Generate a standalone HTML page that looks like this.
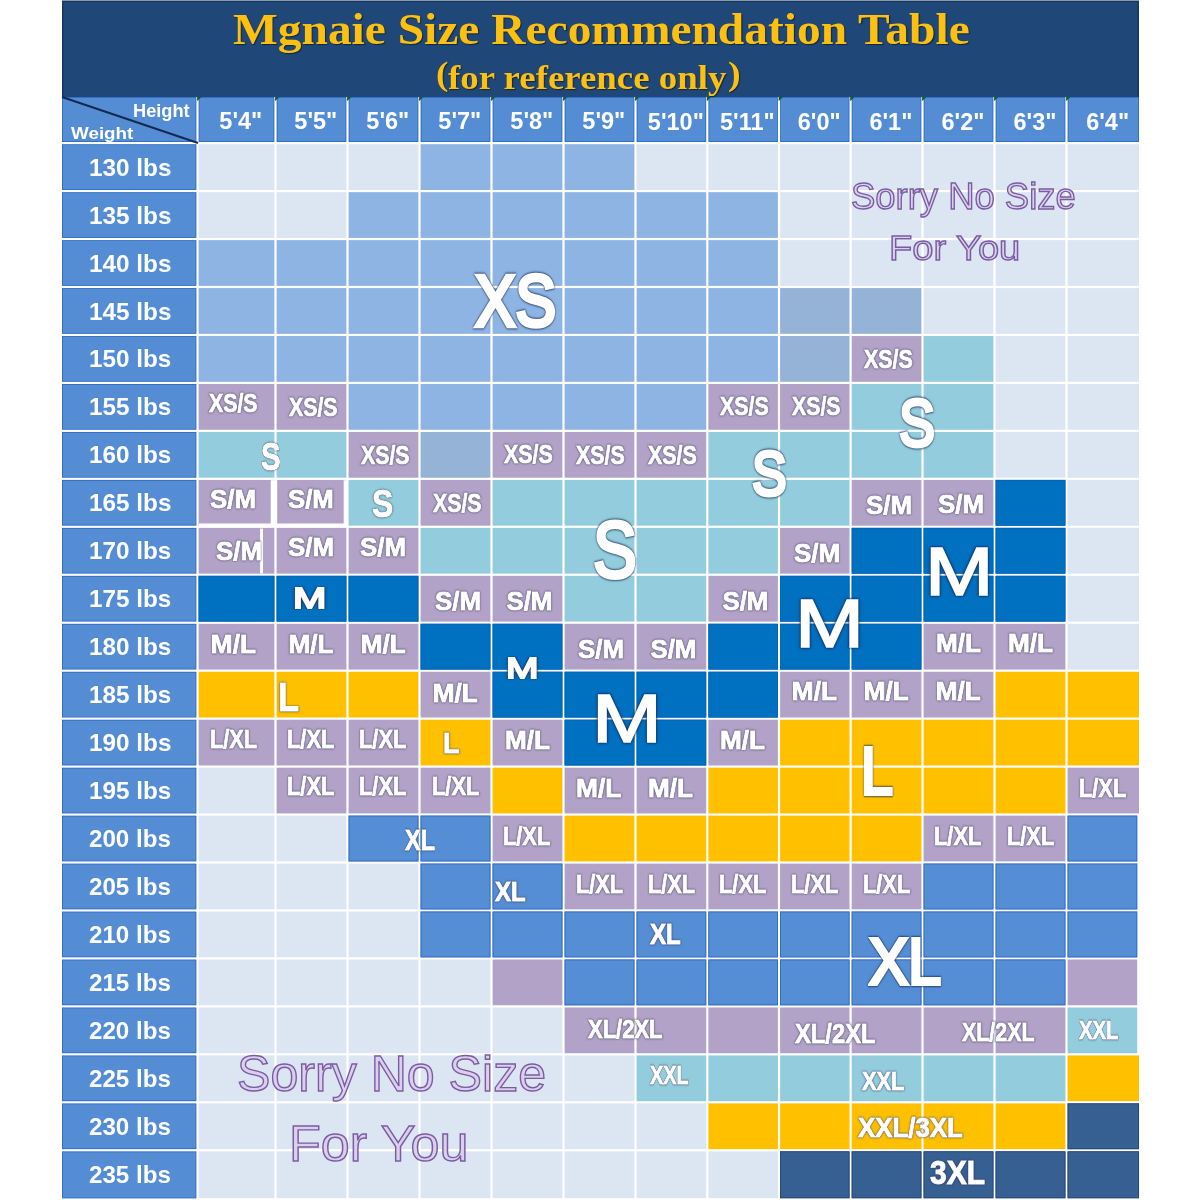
<!DOCTYPE html>
<html lang="en"><head><meta charset="utf-8"><title>Mgnaie Size Recommendation Table</title>
<style>
html,body{margin:0;padding:0;background:#fff}
#chart{position:relative;width:1200px;height:1200px;overflow:hidden;background:#fff;font-family:"Liberation Sans",sans-serif}
#grid{position:absolute;left:0;top:0}
.t{position:absolute;white-space:nowrap;line-height:1;transform-origin:0 0;color:#fff;margin:0;font-family:"Liberation Sans",sans-serif}
.b{font-weight:bold}
.ti{font-family:"Liberation Serif",serif;font-weight:bold;color:#fdc010;text-shadow:1px 1px 1px rgba(0,0,0,.45)}
.sm{font-weight:bold;-webkit-text-stroke:1px #fff;filter:drop-shadow(0 0 .7px rgba(30,35,70,.95)) drop-shadow(.6px .8px 1px rgba(30,35,70,.6))}
.md{font-weight:normal;-webkit-text-stroke:2px #fff}
.bg{-webkit-text-stroke:4px #fff;filter:drop-shadow(0 0 .8px rgba(15,35,80,.95)) drop-shadow(.7px .9px 1.2px rgba(15,35,80,.6))}
.so{color:#dccfee;-webkit-text-stroke:1.4px #7a5da1}
</style></head><body>
<div id="chart">
<svg id="grid" width="1200" height="1200" viewBox="0 0 1200 1200">
<rect x="62" y="0.5" width="1077" height="96.5" fill="#17375e"/>
<rect x="63.5" y="2" width="1074" height="95" fill="#1f4777"/>
<rect x="62" y="97" width="134.4" height="45" fill="#2f6dc3"/>
<rect x="62.9" y="97.9" width="132.6" height="43.2" fill="#548dd4"/>
<line x1="62" y1="97" x2="198" y2="143" stroke="#14294f" stroke-width="2"/>
<rect x="198.6" y="97" width="75.8" height="45" fill="#2f6dc3"/>
<rect x="199.5" y="97.9" width="74" height="43.2" fill="#548dd4"/>
<path d="M197.1 97h4.2l-4.2 4.2z" fill="#0d5c24"/>
<rect x="276.6" y="97" width="69.8" height="45" fill="#2f6dc3"/>
<rect x="277.5" y="97.9" width="68" height="43.2" fill="#548dd4"/>
<path d="M275.1 97h4.2l-4.2 4.2z" fill="#0d5c24"/>
<rect x="348.6" y="97" width="69.8" height="45" fill="#2f6dc3"/>
<rect x="349.5" y="97.9" width="68" height="43.2" fill="#548dd4"/>
<path d="M347.1 97h4.2l-4.2 4.2z" fill="#0d5c24"/>
<rect x="420.6" y="97" width="69.8" height="45" fill="#2f6dc3"/>
<rect x="421.5" y="97.9" width="68" height="43.2" fill="#548dd4"/>
<path d="M419.1 97h4.2l-4.2 4.2z" fill="#0d5c24"/>
<rect x="492.6" y="97" width="69.8" height="45" fill="#2f6dc3"/>
<rect x="493.5" y="97.9" width="68" height="43.2" fill="#548dd4"/>
<path d="M491.1 97h4.2l-4.2 4.2z" fill="#0d5c24"/>
<rect x="564.6" y="97" width="69.8" height="45" fill="#2f6dc3"/>
<rect x="565.5" y="97.9" width="68" height="43.2" fill="#548dd4"/>
<path d="M563.1 97h4.2l-4.2 4.2z" fill="#0d5c24"/>
<rect x="636.6" y="97" width="69.6" height="45" fill="#2f6dc3"/>
<rect x="637.5" y="97.9" width="67.8" height="43.2" fill="#548dd4"/>
<path d="M635.1 97h4.2l-4.2 4.2z" fill="#0d5c24"/>
<rect x="708.4" y="97" width="69.5" height="45" fill="#2f6dc3"/>
<rect x="709.3" y="97.9" width="67.7" height="43.2" fill="#548dd4"/>
<path d="M706.9 97h4.2l-4.2 4.2z" fill="#0d5c24"/>
<rect x="780.1" y="97" width="69.4" height="45" fill="#2f6dc3"/>
<rect x="781" y="97.9" width="67.6" height="43.2" fill="#548dd4"/>
<path d="M778.6 97h4.2l-4.2 4.2z" fill="#0d5c24"/>
<rect x="851.7" y="97" width="69.7" height="45" fill="#2f6dc3"/>
<rect x="852.6" y="97.9" width="67.9" height="43.2" fill="#548dd4"/>
<path d="M850.2 97h4.2l-4.2 4.2z" fill="#0d5c24"/>
<rect x="923.6" y="97" width="69.8" height="45" fill="#2f6dc3"/>
<rect x="924.5" y="97.9" width="68" height="43.2" fill="#548dd4"/>
<path d="M922.1 97h4.2l-4.2 4.2z" fill="#0d5c24"/>
<rect x="995.6" y="97" width="69.8" height="45" fill="#2f6dc3"/>
<rect x="996.5" y="97.9" width="68" height="43.2" fill="#548dd4"/>
<path d="M994.1 97h4.2l-4.2 4.2z" fill="#0d5c24"/>
<rect x="1067.6" y="97" width="71.4" height="45" fill="#2f6dc3"/>
<rect x="1068.5" y="97.9" width="69.6" height="43.2" fill="#548dd4"/>
<path d="M1066.1 97h4.2l-4.2 4.2z" fill="#0d5c24"/>
<rect x="62" y="144.2" width="134.4" height="45.76" fill="#2f6dc3"/>
<rect x="62.9" y="145.1" width="132.6" height="43.96" fill="#548dd4"/>
<rect x="198.6" y="144.2" width="75.8" height="45.76" fill="#dce6f2"/>
<rect x="276.6" y="144.2" width="69.8" height="45.76" fill="#dce6f2"/>
<rect x="348.6" y="144.2" width="69.8" height="45.76" fill="#dce6f2"/>
<rect x="420.6" y="144.2" width="69.8" height="45.76" fill="#8eb4e3"/>
<rect x="492.6" y="144.2" width="69.8" height="45.76" fill="#8eb4e3"/>
<rect x="564.6" y="144.2" width="69.8" height="45.76" fill="#8eb4e3"/>
<rect x="636.6" y="144.2" width="69.6" height="45.76" fill="#dce6f2"/>
<rect x="708.4" y="144.2" width="69.5" height="45.76" fill="#dce6f2"/>
<rect x="780.1" y="144.2" width="69.4" height="45.76" fill="#dce6f2"/>
<rect x="851.7" y="144.2" width="69.7" height="45.76" fill="#dce6f2"/>
<rect x="923.6" y="144.2" width="69.8" height="45.76" fill="#dce6f2"/>
<rect x="995.6" y="144.2" width="69.8" height="45.76" fill="#dce6f2"/>
<rect x="1067.6" y="144.2" width="71.4" height="45.76" fill="#dce6f2"/>
<rect x="62" y="192.16" width="134.4" height="45.76" fill="#2f6dc3"/>
<rect x="62.9" y="193.06" width="132.6" height="43.96" fill="#548dd4"/>
<rect x="198.6" y="192.16" width="75.8" height="45.76" fill="#dce6f2"/>
<rect x="276.6" y="192.16" width="69.8" height="45.76" fill="#dce6f2"/>
<rect x="348.6" y="192.16" width="69.8" height="45.76" fill="#8eb4e3"/>
<rect x="420.6" y="192.16" width="69.8" height="45.76" fill="#8eb4e3"/>
<rect x="492.6" y="192.16" width="69.8" height="45.76" fill="#8eb4e3"/>
<rect x="564.6" y="192.16" width="69.8" height="45.76" fill="#8eb4e3"/>
<rect x="636.6" y="192.16" width="69.6" height="45.76" fill="#8eb4e3"/>
<rect x="708.4" y="192.16" width="69.5" height="45.76" fill="#8eb4e3"/>
<rect x="780.1" y="192.16" width="69.4" height="45.76" fill="#dce6f2"/>
<rect x="851.7" y="192.16" width="69.7" height="45.76" fill="#dce6f2"/>
<rect x="923.6" y="192.16" width="69.8" height="45.76" fill="#dce6f2"/>
<rect x="995.6" y="192.16" width="69.8" height="45.76" fill="#dce6f2"/>
<rect x="1067.6" y="192.16" width="71.4" height="45.76" fill="#dce6f2"/>
<rect x="62" y="240.12" width="134.4" height="45.76" fill="#2f6dc3"/>
<rect x="62.9" y="241.02" width="132.6" height="43.96" fill="#548dd4"/>
<rect x="198.6" y="240.12" width="75.8" height="45.76" fill="#8eb4e3"/>
<rect x="276.6" y="240.12" width="69.8" height="45.76" fill="#8eb4e3"/>
<rect x="348.6" y="240.12" width="69.8" height="45.76" fill="#8eb4e3"/>
<rect x="420.6" y="240.12" width="69.8" height="45.76" fill="#8eb4e3"/>
<rect x="492.6" y="240.12" width="69.8" height="45.76" fill="#8eb4e3"/>
<rect x="564.6" y="240.12" width="69.8" height="45.76" fill="#8eb4e3"/>
<rect x="636.6" y="240.12" width="69.6" height="45.76" fill="#8eb4e3"/>
<rect x="708.4" y="240.12" width="69.5" height="45.76" fill="#8eb4e3"/>
<rect x="780.1" y="240.12" width="69.4" height="45.76" fill="#dce6f2"/>
<rect x="851.7" y="240.12" width="69.7" height="45.76" fill="#dce6f2"/>
<rect x="923.6" y="240.12" width="69.8" height="45.76" fill="#dce6f2"/>
<rect x="995.6" y="240.12" width="69.8" height="45.76" fill="#dce6f2"/>
<rect x="1067.6" y="240.12" width="71.4" height="45.76" fill="#dce6f2"/>
<rect x="62" y="288.08" width="134.4" height="45.76" fill="#2f6dc3"/>
<rect x="62.9" y="288.98" width="132.6" height="43.96" fill="#548dd4"/>
<rect x="198.6" y="288.08" width="75.8" height="45.76" fill="#8eb4e3"/>
<rect x="276.6" y="288.08" width="69.8" height="45.76" fill="#8eb4e3"/>
<rect x="348.6" y="288.08" width="69.8" height="45.76" fill="#8eb4e3"/>
<rect x="420.6" y="288.08" width="69.8" height="45.76" fill="#8eb4e3"/>
<rect x="492.6" y="288.08" width="69.8" height="45.76" fill="#8eb4e3"/>
<rect x="564.6" y="288.08" width="69.8" height="45.76" fill="#8eb4e3"/>
<rect x="636.6" y="288.08" width="69.6" height="45.76" fill="#8eb4e3"/>
<rect x="708.4" y="288.08" width="69.5" height="45.76" fill="#8eb4e3"/>
<rect x="780.1" y="288.08" width="69.4" height="45.76" fill="#95b3d7"/>
<rect x="851.7" y="288.08" width="69.7" height="45.76" fill="#95b3d7"/>
<rect x="923.6" y="288.08" width="69.8" height="45.76" fill="#dce6f2"/>
<rect x="995.6" y="288.08" width="69.8" height="45.76" fill="#dce6f2"/>
<rect x="1067.6" y="288.08" width="71.4" height="45.76" fill="#dce6f2"/>
<rect x="62" y="336.04" width="134.4" height="45.76" fill="#2f6dc3"/>
<rect x="62.9" y="336.94" width="132.6" height="43.96" fill="#548dd4"/>
<rect x="198.6" y="336.04" width="75.8" height="45.76" fill="#8eb4e3"/>
<rect x="276.6" y="336.04" width="69.8" height="45.76" fill="#8eb4e3"/>
<rect x="348.6" y="336.04" width="69.8" height="45.76" fill="#8eb4e3"/>
<rect x="420.6" y="336.04" width="69.8" height="45.76" fill="#8eb4e3"/>
<rect x="492.6" y="336.04" width="69.8" height="45.76" fill="#8eb4e3"/>
<rect x="564.6" y="336.04" width="69.8" height="45.76" fill="#8eb4e3"/>
<rect x="636.6" y="336.04" width="69.6" height="45.76" fill="#8eb4e3"/>
<rect x="708.4" y="336.04" width="69.5" height="45.76" fill="#8eb4e3"/>
<rect x="780.1" y="336.04" width="69.4" height="45.76" fill="#95b3d7"/>
<rect x="851.7" y="336.04" width="69.7" height="45.76" fill="#b3a2c7"/>
<rect x="923.6" y="336.04" width="69.8" height="45.76" fill="#93cddd"/>
<rect x="995.6" y="336.04" width="69.8" height="45.76" fill="#dce6f2"/>
<rect x="1067.6" y="336.04" width="71.4" height="45.76" fill="#dce6f2"/>
<rect x="62" y="384" width="134.4" height="45.76" fill="#2f6dc3"/>
<rect x="62.9" y="384.9" width="132.6" height="43.96" fill="#548dd4"/>
<rect x="198.6" y="384" width="75.8" height="45.76" fill="#b3a2c7"/>
<rect x="276.6" y="384" width="69.8" height="45.76" fill="#b3a2c7"/>
<rect x="348.6" y="384" width="69.8" height="45.76" fill="#8eb4e3"/>
<rect x="420.6" y="384" width="69.8" height="45.76" fill="#8eb4e3"/>
<rect x="492.6" y="384" width="69.8" height="45.76" fill="#8eb4e3"/>
<rect x="564.6" y="384" width="69.8" height="45.76" fill="#8eb4e3"/>
<rect x="636.6" y="384" width="69.6" height="45.76" fill="#8eb4e3"/>
<rect x="708.4" y="384" width="69.5" height="45.76" fill="#b3a2c7"/>
<rect x="780.1" y="384" width="69.4" height="45.76" fill="#b3a2c7"/>
<rect x="851.7" y="384" width="69.7" height="45.76" fill="#93cddd"/>
<rect x="923.6" y="384" width="69.8" height="45.76" fill="#93cddd"/>
<rect x="995.6" y="384" width="69.8" height="45.76" fill="#dce6f2"/>
<rect x="1067.6" y="384" width="71.4" height="45.76" fill="#dce6f2"/>
<rect x="62" y="431.96" width="134.4" height="45.76" fill="#2f6dc3"/>
<rect x="62.9" y="432.86" width="132.6" height="43.96" fill="#548dd4"/>
<rect x="198.6" y="431.96" width="75.8" height="45.76" fill="#93cddd"/>
<rect x="276.6" y="431.96" width="69.8" height="45.76" fill="#93cddd"/>
<rect x="348.6" y="431.96" width="69.8" height="45.76" fill="#b3a2c7"/>
<rect x="420.6" y="431.96" width="69.8" height="45.76" fill="#95b3d7"/>
<rect x="492.6" y="431.96" width="69.8" height="45.76" fill="#b3a2c7"/>
<rect x="564.6" y="431.96" width="69.8" height="45.76" fill="#b3a2c7"/>
<rect x="636.6" y="431.96" width="69.6" height="45.76" fill="#b3a2c7"/>
<rect x="708.4" y="431.96" width="69.5" height="45.76" fill="#93cddd"/>
<rect x="780.1" y="431.96" width="69.4" height="45.76" fill="#93cddd"/>
<rect x="851.7" y="431.96" width="69.7" height="45.76" fill="#93cddd"/>
<rect x="923.6" y="431.96" width="69.8" height="45.76" fill="#93cddd"/>
<rect x="995.6" y="431.96" width="69.8" height="45.76" fill="#dce6f2"/>
<rect x="1067.6" y="431.96" width="71.4" height="45.76" fill="#dce6f2"/>
<rect x="62" y="479.92" width="134.4" height="45.76" fill="#2f6dc3"/>
<rect x="62.9" y="480.82" width="132.6" height="43.96" fill="#548dd4"/>
<rect x="198.6" y="479.92" width="75.8" height="45.76" fill="#b3a2c7"/>
<rect x="276.6" y="479.92" width="69.8" height="45.76" fill="#b3a2c7"/>
<rect x="348.6" y="479.92" width="69.8" height="45.76" fill="#93cddd"/>
<rect x="420.6" y="479.92" width="69.8" height="45.76" fill="#b3a2c7"/>
<rect x="492.6" y="479.92" width="69.8" height="45.76" fill="#93cddd"/>
<rect x="564.6" y="479.92" width="69.8" height="45.76" fill="#93cddd"/>
<rect x="636.6" y="479.92" width="69.6" height="45.76" fill="#93cddd"/>
<rect x="708.4" y="479.92" width="69.5" height="45.76" fill="#93cddd"/>
<rect x="780.1" y="479.92" width="69.4" height="45.76" fill="#93cddd"/>
<rect x="851.7" y="479.92" width="69.7" height="45.76" fill="#b3a2c7"/>
<rect x="923.6" y="479.92" width="69.8" height="45.76" fill="#b3a2c7"/>
<rect x="995.6" y="479.92" width="69.8" height="45.76" fill="#0070c0"/>
<rect x="996" y="480.32" width="69" height="44.96" fill="none" stroke="#0565b4" stroke-width="0.9"/>
<rect x="1067.6" y="479.92" width="71.4" height="45.76" fill="#dce6f2"/>
<rect x="62" y="527.88" width="134.4" height="45.76" fill="#2f6dc3"/>
<rect x="62.9" y="528.78" width="132.6" height="43.96" fill="#548dd4"/>
<rect x="198.6" y="527.88" width="75.8" height="45.76" fill="#b3a2c7"/>
<rect x="276.6" y="527.88" width="69.8" height="45.76" fill="#b3a2c7"/>
<rect x="348.6" y="527.88" width="69.8" height="45.76" fill="#b3a2c7"/>
<rect x="420.6" y="527.88" width="69.8" height="45.76" fill="#93cddd"/>
<rect x="492.6" y="527.88" width="69.8" height="45.76" fill="#93cddd"/>
<rect x="564.6" y="527.88" width="69.8" height="45.76" fill="#93cddd"/>
<rect x="636.6" y="527.88" width="69.6" height="45.76" fill="#93cddd"/>
<rect x="708.4" y="527.88" width="69.5" height="45.76" fill="#93cddd"/>
<rect x="780.1" y="527.88" width="69.4" height="45.76" fill="#b3a2c7"/>
<rect x="851.7" y="527.88" width="69.7" height="45.76" fill="#0070c0"/>
<rect x="852.1" y="528.28" width="68.9" height="44.96" fill="none" stroke="#0565b4" stroke-width="0.9"/>
<rect x="923.6" y="527.88" width="69.8" height="45.76" fill="#0070c0"/>
<rect x="924" y="528.28" width="69" height="44.96" fill="none" stroke="#0565b4" stroke-width="0.9"/>
<rect x="995.6" y="527.88" width="69.8" height="45.76" fill="#0070c0"/>
<rect x="996" y="528.28" width="69" height="44.96" fill="none" stroke="#0565b4" stroke-width="0.9"/>
<rect x="1067.6" y="527.88" width="71.4" height="45.76" fill="#dce6f2"/>
<rect x="62" y="575.84" width="134.4" height="45.76" fill="#2f6dc3"/>
<rect x="62.9" y="576.74" width="132.6" height="43.96" fill="#548dd4"/>
<rect x="198.6" y="575.84" width="75.8" height="45.76" fill="#0070c0"/>
<rect x="199" y="576.24" width="75" height="44.96" fill="none" stroke="#0565b4" stroke-width="0.9"/>
<rect x="276.6" y="575.84" width="69.8" height="45.76" fill="#0070c0"/>
<rect x="277" y="576.24" width="69" height="44.96" fill="none" stroke="#0565b4" stroke-width="0.9"/>
<rect x="348.6" y="575.84" width="69.8" height="45.76" fill="#0070c0"/>
<rect x="349" y="576.24" width="69" height="44.96" fill="none" stroke="#0565b4" stroke-width="0.9"/>
<rect x="420.6" y="575.84" width="69.8" height="45.76" fill="#b3a2c7"/>
<rect x="492.6" y="575.84" width="69.8" height="45.76" fill="#b3a2c7"/>
<rect x="564.6" y="575.84" width="69.8" height="45.76" fill="#93cddd"/>
<rect x="636.6" y="575.84" width="69.6" height="45.76" fill="#93cddd"/>
<rect x="708.4" y="575.84" width="69.5" height="45.76" fill="#b3a2c7"/>
<rect x="780.1" y="575.84" width="69.4" height="45.76" fill="#0070c0"/>
<rect x="780.5" y="576.24" width="68.6" height="44.96" fill="none" stroke="#0565b4" stroke-width="0.9"/>
<rect x="851.7" y="575.84" width="69.7" height="45.76" fill="#0070c0"/>
<rect x="852.1" y="576.24" width="68.9" height="44.96" fill="none" stroke="#0565b4" stroke-width="0.9"/>
<rect x="923.6" y="575.84" width="69.8" height="45.76" fill="#0070c0"/>
<rect x="924" y="576.24" width="69" height="44.96" fill="none" stroke="#0565b4" stroke-width="0.9"/>
<rect x="995.6" y="575.84" width="69.8" height="45.76" fill="#0070c0"/>
<rect x="996" y="576.24" width="69" height="44.96" fill="none" stroke="#0565b4" stroke-width="0.9"/>
<rect x="1067.6" y="575.84" width="71.4" height="45.76" fill="#dce6f2"/>
<rect x="62" y="623.8" width="134.4" height="45.76" fill="#2f6dc3"/>
<rect x="62.9" y="624.7" width="132.6" height="43.96" fill="#548dd4"/>
<rect x="198.6" y="623.8" width="75.8" height="45.76" fill="#b3a2c7"/>
<rect x="276.6" y="623.8" width="69.8" height="45.76" fill="#b3a2c7"/>
<rect x="348.6" y="623.8" width="69.8" height="45.76" fill="#b3a2c7"/>
<rect x="420.6" y="623.8" width="69.8" height="45.76" fill="#0070c0"/>
<rect x="421" y="624.2" width="69" height="44.96" fill="none" stroke="#0565b4" stroke-width="0.9"/>
<rect x="492.6" y="623.8" width="69.8" height="45.76" fill="#0070c0"/>
<rect x="493" y="624.2" width="69" height="44.96" fill="none" stroke="#0565b4" stroke-width="0.9"/>
<rect x="564.6" y="623.8" width="69.8" height="45.76" fill="#b3a2c7"/>
<rect x="636.6" y="623.8" width="69.6" height="45.76" fill="#b3a2c7"/>
<rect x="708.4" y="623.8" width="69.5" height="45.76" fill="#0070c0"/>
<rect x="708.8" y="624.2" width="68.7" height="44.96" fill="none" stroke="#0565b4" stroke-width="0.9"/>
<rect x="780.1" y="623.8" width="69.4" height="45.76" fill="#0070c0"/>
<rect x="780.5" y="624.2" width="68.6" height="44.96" fill="none" stroke="#0565b4" stroke-width="0.9"/>
<rect x="851.7" y="623.8" width="69.7" height="45.76" fill="#0070c0"/>
<rect x="852.1" y="624.2" width="68.9" height="44.96" fill="none" stroke="#0565b4" stroke-width="0.9"/>
<rect x="923.6" y="623.8" width="69.8" height="45.76" fill="#b3a2c7"/>
<rect x="995.6" y="623.8" width="69.8" height="45.76" fill="#b3a2c7"/>
<rect x="1067.6" y="623.8" width="71.4" height="45.76" fill="#dce6f2"/>
<rect x="62" y="671.76" width="134.4" height="45.76" fill="#2f6dc3"/>
<rect x="62.9" y="672.66" width="132.6" height="43.96" fill="#548dd4"/>
<rect x="198.6" y="671.76" width="75.8" height="45.76" fill="#ffc000"/>
<rect x="276.6" y="671.76" width="69.8" height="45.76" fill="#ffc000"/>
<rect x="348.6" y="671.76" width="69.8" height="45.76" fill="#ffc000"/>
<rect x="420.6" y="671.76" width="69.8" height="45.76" fill="#b3a2c7"/>
<rect x="492.6" y="671.76" width="69.8" height="45.76" fill="#0070c0"/>
<rect x="493" y="672.16" width="69" height="44.96" fill="none" stroke="#0565b4" stroke-width="0.9"/>
<rect x="564.6" y="671.76" width="69.8" height="45.76" fill="#0070c0"/>
<rect x="565" y="672.16" width="69" height="44.96" fill="none" stroke="#0565b4" stroke-width="0.9"/>
<rect x="636.6" y="671.76" width="69.6" height="45.76" fill="#0070c0"/>
<rect x="637" y="672.16" width="68.8" height="44.96" fill="none" stroke="#0565b4" stroke-width="0.9"/>
<rect x="708.4" y="671.76" width="69.5" height="45.76" fill="#0070c0"/>
<rect x="708.8" y="672.16" width="68.7" height="44.96" fill="none" stroke="#0565b4" stroke-width="0.9"/>
<rect x="780.1" y="671.76" width="69.4" height="45.76" fill="#b3a2c7"/>
<rect x="851.7" y="671.76" width="69.7" height="45.76" fill="#b3a2c7"/>
<rect x="923.6" y="671.76" width="69.8" height="45.76" fill="#b3a2c7"/>
<rect x="995.6" y="671.76" width="69.8" height="45.76" fill="#ffc000"/>
<rect x="1067.6" y="671.76" width="71.4" height="45.76" fill="#ffc000"/>
<rect x="62" y="719.72" width="134.4" height="45.76" fill="#2f6dc3"/>
<rect x="62.9" y="720.62" width="132.6" height="43.96" fill="#548dd4"/>
<rect x="198.6" y="719.72" width="75.8" height="45.76" fill="#b3a2c7"/>
<rect x="276.6" y="719.72" width="69.8" height="45.76" fill="#b3a2c7"/>
<rect x="348.6" y="719.72" width="69.8" height="45.76" fill="#b3a2c7"/>
<rect x="420.6" y="719.72" width="69.8" height="45.76" fill="#ffc000"/>
<rect x="492.6" y="719.72" width="69.8" height="45.76" fill="#b3a2c7"/>
<rect x="564.6" y="719.72" width="69.8" height="45.76" fill="#0070c0"/>
<rect x="565" y="720.12" width="69" height="44.96" fill="none" stroke="#0565b4" stroke-width="0.9"/>
<rect x="636.6" y="719.72" width="69.6" height="45.76" fill="#0070c0"/>
<rect x="637" y="720.12" width="68.8" height="44.96" fill="none" stroke="#0565b4" stroke-width="0.9"/>
<rect x="708.4" y="719.72" width="69.5" height="45.76" fill="#b3a2c7"/>
<rect x="780.1" y="719.72" width="69.4" height="45.76" fill="#ffc000"/>
<rect x="851.7" y="719.72" width="69.7" height="45.76" fill="#ffc000"/>
<rect x="923.6" y="719.72" width="69.8" height="45.76" fill="#ffc000"/>
<rect x="995.6" y="719.72" width="69.8" height="45.76" fill="#ffc000"/>
<rect x="1067.6" y="719.72" width="71.4" height="45.76" fill="#ffc000"/>
<rect x="62" y="767.68" width="134.4" height="45.76" fill="#2f6dc3"/>
<rect x="62.9" y="768.58" width="132.6" height="43.96" fill="#548dd4"/>
<rect x="198.6" y="767.68" width="75.8" height="45.76" fill="#dce6f2"/>
<rect x="276.6" y="767.68" width="69.8" height="45.76" fill="#b3a2c7"/>
<rect x="348.6" y="767.68" width="69.8" height="45.76" fill="#b3a2c7"/>
<rect x="420.6" y="767.68" width="69.8" height="45.76" fill="#b3a2c7"/>
<rect x="492.6" y="767.68" width="69.8" height="45.76" fill="#ffc000"/>
<rect x="564.6" y="767.68" width="69.8" height="45.76" fill="#b3a2c7"/>
<rect x="636.6" y="767.68" width="69.6" height="45.76" fill="#b3a2c7"/>
<rect x="708.4" y="767.68" width="69.5" height="45.76" fill="#ffc000"/>
<rect x="780.1" y="767.68" width="69.4" height="45.76" fill="#ffc000"/>
<rect x="851.7" y="767.68" width="69.7" height="45.76" fill="#ffc000"/>
<rect x="923.6" y="767.68" width="69.8" height="45.76" fill="#ffc000"/>
<rect x="995.6" y="767.68" width="69.8" height="45.76" fill="#ffc000"/>
<rect x="1067.6" y="767.68" width="71.4" height="45.76" fill="#b3a2c7"/>
<rect x="62" y="815.64" width="134.4" height="45.76" fill="#2f6dc3"/>
<rect x="62.9" y="816.54" width="132.6" height="43.96" fill="#548dd4"/>
<rect x="198.6" y="815.64" width="75.8" height="45.76" fill="#dce6f2"/>
<rect x="276.6" y="815.64" width="69.8" height="45.76" fill="#dce6f2"/>
<rect x="348.6" y="815.64" width="69.8" height="45.76" fill="#558ed5"/>
<rect x="349" y="816.04" width="69" height="44.96" fill="none" stroke="#316bbf" stroke-width="0.9"/>
<rect x="420.6" y="815.64" width="69.8" height="45.76" fill="#558ed5"/>
<rect x="421" y="816.04" width="69" height="44.96" fill="none" stroke="#316bbf" stroke-width="0.9"/>
<rect x="492.6" y="815.64" width="69.8" height="45.76" fill="#b3a2c7"/>
<rect x="564.6" y="815.64" width="69.8" height="45.76" fill="#ffc000"/>
<rect x="636.6" y="815.64" width="69.6" height="45.76" fill="#ffc000"/>
<rect x="708.4" y="815.64" width="69.5" height="45.76" fill="#ffc000"/>
<rect x="780.1" y="815.64" width="69.4" height="45.76" fill="#ffc000"/>
<rect x="851.7" y="815.64" width="69.7" height="45.76" fill="#ffc000"/>
<rect x="923.6" y="815.64" width="69.8" height="45.76" fill="#b3a2c7"/>
<rect x="995.6" y="815.64" width="69.8" height="45.76" fill="#b3a2c7"/>
<rect x="1067.6" y="815.64" width="69.6" height="45.76" fill="#558ed5"/>
<rect x="1068" y="816.04" width="68.8" height="44.96" fill="none" stroke="#316bbf" stroke-width="0.9"/>
<rect x="62" y="863.6" width="134.4" height="45.76" fill="#2f6dc3"/>
<rect x="62.9" y="864.5" width="132.6" height="43.96" fill="#548dd4"/>
<rect x="198.6" y="863.6" width="75.8" height="45.76" fill="#dce6f2"/>
<rect x="276.6" y="863.6" width="69.8" height="45.76" fill="#dce6f2"/>
<rect x="348.6" y="863.6" width="69.8" height="45.76" fill="#dce6f2"/>
<rect x="420.6" y="863.6" width="69.8" height="45.76" fill="#558ed5"/>
<rect x="421" y="864" width="69" height="44.96" fill="none" stroke="#316bbf" stroke-width="0.9"/>
<rect x="492.6" y="863.6" width="69.8" height="45.76" fill="#558ed5"/>
<rect x="493" y="864" width="69" height="44.96" fill="none" stroke="#316bbf" stroke-width="0.9"/>
<rect x="564.6" y="863.6" width="69.8" height="45.76" fill="#b3a2c7"/>
<rect x="636.6" y="863.6" width="69.6" height="45.76" fill="#b3a2c7"/>
<rect x="708.4" y="863.6" width="69.5" height="45.76" fill="#b3a2c7"/>
<rect x="780.1" y="863.6" width="69.4" height="45.76" fill="#b3a2c7"/>
<rect x="851.7" y="863.6" width="69.7" height="45.76" fill="#b3a2c7"/>
<rect x="923.6" y="863.6" width="69.8" height="45.76" fill="#558ed5"/>
<rect x="924" y="864" width="69" height="44.96" fill="none" stroke="#316bbf" stroke-width="0.9"/>
<rect x="995.6" y="863.6" width="69.8" height="45.76" fill="#558ed5"/>
<rect x="996" y="864" width="69" height="44.96" fill="none" stroke="#316bbf" stroke-width="0.9"/>
<rect x="1067.6" y="863.6" width="69.6" height="45.76" fill="#558ed5"/>
<rect x="1068" y="864" width="68.8" height="44.96" fill="none" stroke="#316bbf" stroke-width="0.9"/>
<rect x="62" y="911.56" width="134.4" height="45.76" fill="#2f6dc3"/>
<rect x="62.9" y="912.46" width="132.6" height="43.96" fill="#548dd4"/>
<rect x="198.6" y="911.56" width="75.8" height="45.76" fill="#dce6f2"/>
<rect x="276.6" y="911.56" width="69.8" height="45.76" fill="#dce6f2"/>
<rect x="348.6" y="911.56" width="69.8" height="45.76" fill="#dce6f2"/>
<rect x="420.6" y="911.56" width="69.8" height="45.76" fill="#558ed5"/>
<rect x="421" y="911.96" width="69" height="44.96" fill="none" stroke="#316bbf" stroke-width="0.9"/>
<rect x="492.6" y="911.56" width="69.8" height="45.76" fill="#558ed5"/>
<rect x="493" y="911.96" width="69" height="44.96" fill="none" stroke="#316bbf" stroke-width="0.9"/>
<rect x="564.6" y="911.56" width="69.8" height="45.76" fill="#558ed5"/>
<rect x="565" y="911.96" width="69" height="44.96" fill="none" stroke="#316bbf" stroke-width="0.9"/>
<rect x="636.6" y="911.56" width="69.6" height="45.76" fill="#558ed5"/>
<rect x="637" y="911.96" width="68.8" height="44.96" fill="none" stroke="#316bbf" stroke-width="0.9"/>
<rect x="708.4" y="911.56" width="69.5" height="45.76" fill="#558ed5"/>
<rect x="708.8" y="911.96" width="68.7" height="44.96" fill="none" stroke="#316bbf" stroke-width="0.9"/>
<rect x="780.1" y="911.56" width="69.4" height="45.76" fill="#558ed5"/>
<rect x="780.5" y="911.96" width="68.6" height="44.96" fill="none" stroke="#316bbf" stroke-width="0.9"/>
<rect x="851.7" y="911.56" width="69.7" height="45.76" fill="#558ed5"/>
<rect x="852.1" y="911.96" width="68.9" height="44.96" fill="none" stroke="#316bbf" stroke-width="0.9"/>
<rect x="923.6" y="911.56" width="69.8" height="45.76" fill="#558ed5"/>
<rect x="924" y="911.96" width="69" height="44.96" fill="none" stroke="#316bbf" stroke-width="0.9"/>
<rect x="995.6" y="911.56" width="69.8" height="45.76" fill="#558ed5"/>
<rect x="996" y="911.96" width="69" height="44.96" fill="none" stroke="#316bbf" stroke-width="0.9"/>
<rect x="1067.6" y="911.56" width="69.6" height="45.76" fill="#558ed5"/>
<rect x="1068" y="911.96" width="68.8" height="44.96" fill="none" stroke="#316bbf" stroke-width="0.9"/>
<rect x="62" y="959.52" width="134.4" height="45.76" fill="#2f6dc3"/>
<rect x="62.9" y="960.42" width="132.6" height="43.96" fill="#548dd4"/>
<rect x="198.6" y="959.52" width="75.8" height="45.76" fill="#dce6f2"/>
<rect x="276.6" y="959.52" width="69.8" height="45.76" fill="#dce6f2"/>
<rect x="348.6" y="959.52" width="69.8" height="45.76" fill="#dce6f2"/>
<rect x="420.6" y="959.52" width="69.8" height="45.76" fill="#dce6f2"/>
<rect x="492.6" y="959.52" width="69.8" height="45.76" fill="#b3a2c7"/>
<rect x="564.6" y="959.52" width="69.8" height="45.76" fill="#558ed5"/>
<rect x="565" y="959.92" width="69" height="44.96" fill="none" stroke="#316bbf" stroke-width="0.9"/>
<rect x="636.6" y="959.52" width="69.6" height="45.76" fill="#558ed5"/>
<rect x="637" y="959.92" width="68.8" height="44.96" fill="none" stroke="#316bbf" stroke-width="0.9"/>
<rect x="708.4" y="959.52" width="69.5" height="45.76" fill="#558ed5"/>
<rect x="708.8" y="959.92" width="68.7" height="44.96" fill="none" stroke="#316bbf" stroke-width="0.9"/>
<rect x="780.1" y="959.52" width="69.4" height="45.76" fill="#558ed5"/>
<rect x="780.5" y="959.92" width="68.6" height="44.96" fill="none" stroke="#316bbf" stroke-width="0.9"/>
<rect x="851.7" y="959.52" width="69.7" height="45.76" fill="#558ed5"/>
<rect x="852.1" y="959.92" width="68.9" height="44.96" fill="none" stroke="#316bbf" stroke-width="0.9"/>
<rect x="923.6" y="959.52" width="69.8" height="45.76" fill="#558ed5"/>
<rect x="924" y="959.92" width="69" height="44.96" fill="none" stroke="#316bbf" stroke-width="0.9"/>
<rect x="995.6" y="959.52" width="69.8" height="45.76" fill="#558ed5"/>
<rect x="996" y="959.92" width="69" height="44.96" fill="none" stroke="#316bbf" stroke-width="0.9"/>
<rect x="1067.6" y="959.52" width="69.6" height="45.76" fill="#b3a2c7"/>
<rect x="62" y="1007.48" width="134.4" height="45.76" fill="#2f6dc3"/>
<rect x="62.9" y="1008.38" width="132.6" height="43.96" fill="#548dd4"/>
<rect x="198.6" y="1007.48" width="75.8" height="45.76" fill="#dce6f2"/>
<rect x="276.6" y="1007.48" width="69.8" height="45.76" fill="#dce6f2"/>
<rect x="348.6" y="1007.48" width="69.8" height="45.76" fill="#dce6f2"/>
<rect x="420.6" y="1007.48" width="69.8" height="45.76" fill="#dce6f2"/>
<rect x="492.6" y="1007.48" width="69.8" height="45.76" fill="#dce6f2"/>
<rect x="564.6" y="1007.48" width="69.8" height="45.76" fill="#b3a2c7"/>
<rect x="636.6" y="1007.48" width="69.6" height="45.76" fill="#b3a2c7"/>
<rect x="708.4" y="1007.48" width="69.5" height="45.76" fill="#b3a2c7"/>
<rect x="780.1" y="1007.48" width="69.4" height="45.76" fill="#b3a2c7"/>
<rect x="851.7" y="1007.48" width="69.7" height="45.76" fill="#b3a2c7"/>
<rect x="923.6" y="1007.48" width="69.8" height="45.76" fill="#b3a2c7"/>
<rect x="995.6" y="1007.48" width="69.8" height="45.76" fill="#b3a2c7"/>
<rect x="1067.6" y="1007.48" width="69.6" height="45.76" fill="#93cddd"/>
<rect x="62" y="1055.44" width="134.4" height="45.76" fill="#2f6dc3"/>
<rect x="62.9" y="1056.34" width="132.6" height="43.96" fill="#548dd4"/>
<rect x="198.6" y="1055.44" width="75.8" height="45.76" fill="#dce6f2"/>
<rect x="276.6" y="1055.44" width="69.8" height="45.76" fill="#dce6f2"/>
<rect x="348.6" y="1055.44" width="69.8" height="45.76" fill="#dce6f2"/>
<rect x="420.6" y="1055.44" width="69.8" height="45.76" fill="#dce6f2"/>
<rect x="492.6" y="1055.44" width="69.8" height="45.76" fill="#dce6f2"/>
<rect x="564.6" y="1055.44" width="69.8" height="45.76" fill="#dce6f2"/>
<rect x="636.6" y="1055.44" width="69.6" height="45.76" fill="#93cddd"/>
<rect x="708.4" y="1055.44" width="69.5" height="45.76" fill="#93cddd"/>
<rect x="780.1" y="1055.44" width="69.4" height="45.76" fill="#93cddd"/>
<rect x="851.7" y="1055.44" width="69.7" height="45.76" fill="#93cddd"/>
<rect x="923.6" y="1055.44" width="69.8" height="45.76" fill="#93cddd"/>
<rect x="995.6" y="1055.44" width="69.8" height="45.76" fill="#93cddd"/>
<rect x="1067.6" y="1055.44" width="71.4" height="45.76" fill="#ffc000"/>
<rect x="62" y="1103.4" width="134.4" height="45.76" fill="#2f6dc3"/>
<rect x="62.9" y="1104.3" width="132.6" height="43.96" fill="#548dd4"/>
<rect x="198.6" y="1103.4" width="75.8" height="45.76" fill="#dce6f2"/>
<rect x="276.6" y="1103.4" width="69.8" height="45.76" fill="#dce6f2"/>
<rect x="348.6" y="1103.4" width="69.8" height="45.76" fill="#dce6f2"/>
<rect x="420.6" y="1103.4" width="69.8" height="45.76" fill="#dce6f2"/>
<rect x="492.6" y="1103.4" width="69.8" height="45.76" fill="#dce6f2"/>
<rect x="564.6" y="1103.4" width="69.8" height="45.76" fill="#dce6f2"/>
<rect x="636.6" y="1103.4" width="69.6" height="45.76" fill="#dce6f2"/>
<rect x="708.4" y="1103.4" width="69.5" height="45.76" fill="#ffc000"/>
<rect x="780.1" y="1103.4" width="69.4" height="45.76" fill="#ffc000"/>
<rect x="851.7" y="1103.4" width="69.7" height="45.76" fill="#ffc000"/>
<rect x="923.6" y="1103.4" width="69.8" height="45.76" fill="#ffc000"/>
<rect x="995.6" y="1103.4" width="69.8" height="45.76" fill="#ffc000"/>
<rect x="1067.6" y="1103.4" width="71.4" height="45.76" fill="#376092"/>
<rect x="1068" y="1103.8" width="70.6" height="44.96" fill="none" stroke="#254574" stroke-width="0.9"/>
<rect x="62" y="1151.36" width="134.4" height="47.04" fill="#2f6dc3"/>
<rect x="62.9" y="1152.26" width="132.6" height="45.24" fill="#548dd4"/>
<rect x="198.6" y="1151.36" width="75.8" height="46.84" fill="#dce6f2"/>
<rect x="276.6" y="1151.36" width="69.8" height="46.84" fill="#dce6f2"/>
<rect x="348.6" y="1151.36" width="69.8" height="46.84" fill="#dce6f2"/>
<rect x="420.6" y="1151.36" width="69.8" height="46.84" fill="#dce6f2"/>
<rect x="492.6" y="1151.36" width="69.8" height="46.84" fill="#dce6f2"/>
<rect x="564.6" y="1151.36" width="69.8" height="46.84" fill="#dce6f2"/>
<rect x="636.6" y="1151.36" width="69.6" height="46.84" fill="#dce6f2"/>
<rect x="708.4" y="1151.36" width="69.5" height="46.84" fill="#dce6f2"/>
<rect x="780.1" y="1151.36" width="69.4" height="46.84" fill="#376092"/>
<rect x="780.5" y="1151.76" width="68.6" height="46.04" fill="none" stroke="#254574" stroke-width="0.9"/>
<rect x="851.7" y="1151.36" width="69.7" height="46.84" fill="#376092"/>
<rect x="852.1" y="1151.76" width="68.9" height="46.04" fill="none" stroke="#254574" stroke-width="0.9"/>
<rect x="923.6" y="1151.36" width="69.8" height="46.84" fill="#376092"/>
<rect x="924" y="1151.76" width="69" height="46.04" fill="none" stroke="#254574" stroke-width="0.9"/>
<rect x="995.6" y="1151.36" width="69.8" height="46.84" fill="#376092"/>
<rect x="996" y="1151.76" width="69" height="46.04" fill="none" stroke="#254574" stroke-width="0.9"/>
<rect x="1067.6" y="1151.36" width="71.4" height="46.84" fill="#376092"/>
<rect x="1068" y="1151.76" width="70.6" height="46.04" fill="none" stroke="#254574" stroke-width="0.9"/>
<rect x="270.7" y="480.2" width="6.5" height="46" fill="#fff"/>
<rect x="199" y="523.5" width="149" height="3" fill="#fff"/>
<rect x="343.7" y="480.2" width="4" height="46" fill="#fff"/>
<rect x="260.1" y="528.6" width="2.9" height="44.8" fill="#fff"/>
</svg>
<span class="t ti" style="left:232.68px;top:7.77px;font-size:44.1px;transform:scaleX(1.076);">Mgnaie Size Recommendation Table</span>
<span class="t ti" style="left:436.09px;top:56.07px;font-size:34.51px;transform:scaleX(1.082);">(</span>
<span class="t ti" style="left:448.02px;top:60.74px;font-size:34px;transform:scaleX(1.084);">for reference only</span>
<span class="t ti" style="left:728.15px;top:55.97px;font-size:34.4px;transform:scaleX(1.109);">)</span>
<span class="t b" style="left:132.98px;top:102.55px;font-size:17.51px;transform:scaleX(1.041);">Height</span>
<span class="t b" style="left:70.74px;top:125.26px;font-size:16.98px;transform:scaleX(1.109);">Weight</span>
<span class="t b" style="left:219.35px;top:109.94px;font-size:23.5px;">5'4&quot;</span>
<span class="t b" style="left:294.35px;top:109.94px;font-size:23.5px;">5'5&quot;</span>
<span class="t b" style="left:366.35px;top:109.94px;font-size:23.5px;">5'6&quot;</span>
<span class="t b" style="left:438.35px;top:109.94px;font-size:23.5px;">5'7&quot;</span>
<span class="t b" style="left:510.35px;top:109.94px;font-size:23.5px;">5'8&quot;</span>
<span class="t b" style="left:582.35px;top:109.94px;font-size:23.5px;">5'9&quot;</span>
<span class="t b" style="left:647.84px;top:110.53px;font-size:23.5px;">5'10&quot;</span>
<span class="t b" style="left:720.03px;top:110.67px;font-size:23.5px;">5'11&quot;</span>
<span class="t b" style="left:797.73px;top:110.81px;font-size:23.5px;">6'0&quot;</span>
<span class="t b" style="left:869.46px;top:110.81px;font-size:23.5px;">6'1&quot;</span>
<span class="t b" style="left:941.47px;top:110.8px;font-size:23.5px;">6'2&quot;</span>
<span class="t b" style="left:1013.47px;top:110.8px;font-size:23.5px;">6'3&quot;</span>
<span class="t b" style="left:1086.2px;top:110.8px;font-size:23.5px;">6'4&quot;</span>
<span class="t b" style="left:88.54px;top:157.06px;font-size:23.2px;transform:scaleX(1.049);">130 lbs</span>
<span class="t b" style="left:88.54px;top:204.98px;font-size:23.2px;transform:scaleX(1.049);">135 lbs</span>
<span class="t b" style="left:88.62px;top:252.91px;font-size:23.2px;transform:scaleX(1.048);">140 lbs</span>
<span class="t b" style="left:88.54px;top:300.82px;font-size:23.2px;transform:scaleX(1.049);">145 lbs</span>
<span class="t b" style="left:88.7px;top:348.45px;font-size:23.2px;transform:scaleX(1.047);">150 lbs</span>
<span class="t b" style="left:88.7px;top:396.21px;font-size:23.2px;transform:scaleX(1.047);">155 lbs</span>
<span class="t b" style="left:88.7px;top:443.97px;font-size:23.2px;transform:scaleX(1.047);">160 lbs</span>
<span class="t b" style="left:88.62px;top:492.11px;font-size:23.2px;transform:scaleX(1.048);">165 lbs</span>
<span class="t b" style="left:88.7px;top:540.49px;font-size:23.2px;transform:scaleX(1.047);">170 lbs</span>
<span class="t b" style="left:88.7px;top:588.25px;font-size:23.2px;transform:scaleX(1.047);">175 lbs</span>
<span class="t b" style="left:88.7px;top:636.01px;font-size:23.2px;transform:scaleX(1.047);">180 lbs</span>
<span class="t b" style="left:88.7px;top:683.77px;font-size:23.2px;transform:scaleX(1.047);">185 lbs</span>
<span class="t b" style="left:88.62px;top:732.31px;font-size:23.2px;transform:scaleX(1.048);">190 lbs</span>
<span class="t b" style="left:88.7px;top:780.29px;font-size:23.2px;transform:scaleX(1.047);">195 lbs</span>
<span class="t b" style="left:89.46px;top:827.96px;font-size:23.2px;transform:scaleX(1.042);">200 lbs</span>
<span class="t b" style="left:89.46px;top:875.84px;font-size:23.2px;transform:scaleX(1.042);">205 lbs</span>
<span class="t b" style="left:89.46px;top:923.72px;font-size:23.2px;transform:scaleX(1.042);">210 lbs</span>
<span class="t b" style="left:89.46px;top:971.6px;font-size:23.2px;transform:scaleX(1.042);">215 lbs</span>
<span class="t b" style="left:88.91px;top:1020.21px;font-size:23.2px;transform:scaleX(1.042);">220 lbs</span>
<span class="t b" style="left:88.91px;top:1068.01px;font-size:23.2px;transform:scaleX(1.042);">225 lbs</span>
<span class="t b" style="left:89.46px;top:1116.24px;font-size:23.2px;transform:scaleX(1.042);">230 lbs</span>
<span class="t b" style="left:89.46px;top:1164.12px;font-size:23.2px;transform:scaleX(1.042);">235 lbs</span>
<span class="t sm" style="left:863.91px;top:345.75px;font-size:26.22px;transform:scaleX(0.816);">XS/S</span>
<span class="t sm" style="left:208.83px;top:390.72px;font-size:25.89px;transform:scaleX(0.824);">XS/S</span>
<span class="t sm" style="left:288.66px;top:394.82px;font-size:25.89px;transform:scaleX(0.823);">XS/S</span>
<span class="t sm" style="left:719.91px;top:392.55px;font-size:26.22px;transform:scaleX(0.816);">XS/S</span>
<span class="t sm" style="left:791.85px;top:392.55px;font-size:26.22px;transform:scaleX(0.812);">XS/S</span>
<span class="t sm" style="left:360.6px;top:441.55px;font-size:26.22px;transform:scaleX(0.813);">XS/S</span>
<span class="t sm" style="left:504.12px;top:442.32px;font-size:25.89px;transform:scaleX(0.827);">XS/S</span>
<span class="t sm" style="left:575.91px;top:441.55px;font-size:26.22px;transform:scaleX(0.816);">XS/S</span>
<span class="t sm" style="left:647.91px;top:441.55px;font-size:26.22px;transform:scaleX(0.816);">XS/S</span>
<span class="t sm" style="left:210.23px;top:486.13px;font-size:26.05px;transform:scaleX(0.994);">S/M</span>
<span class="t sm" style="left:287.56px;top:486.13px;font-size:26.05px;transform:scaleX(0.989);">S/M</span>
<span class="t sm" style="left:432.7px;top:491.32px;font-size:25.89px;transform:scaleX(0.823);">XS/S</span>
<span class="t sm" style="left:866px;top:491.74px;font-size:26.05px;transform:scaleX(0.994);">S/M</span>
<span class="t sm" style="left:937.92px;top:491.15px;font-size:26.22px;transform:scaleX(0.986);">S/M</span>
<span class="t sm" style="left:216px;top:537.74px;font-size:26.05px;transform:scaleX(0.994);">S/M</span>
<span class="t sm" style="left:287.92px;top:534.15px;font-size:26.22px;transform:scaleX(0.986);">S/M</span>
<span class="t sm" style="left:360.12px;top:534.15px;font-size:26.22px;transform:scaleX(0.986);">S/M</span>
<span class="t sm" style="left:794.07px;top:539.75px;font-size:26.22px;transform:scaleX(0.992);">S/M</span>
<span class="t sm" style="left:434.92px;top:588.15px;font-size:26.22px;transform:scaleX(0.986);">S/M</span>
<span class="t sm" style="left:506.4px;top:589.31px;font-size:25.89px;">S/M</span>
<span class="t sm" style="left:722.4px;top:589.31px;font-size:25.89px;">S/M</span>
<span class="t sm" style="left:210.85px;top:631.15px;font-size:26.22px;">M/L</span>
<span class="t sm" style="left:288.4px;top:631.15px;font-size:26.22px;">M/L</span>
<span class="t sm" style="left:360.75px;top:631.15px;font-size:26.22px;">M/L</span>
<span class="t sm" style="left:578.27px;top:635.55px;font-size:26.22px;transform:scaleX(0.986);">S/M</span>
<span class="t sm" style="left:650.4px;top:636.82px;font-size:25.89px;">S/M</span>
<span class="t sm" style="left:936.29px;top:631.32px;font-size:25.89px;transform:scaleX(1.011);">M/L</span>
<span class="t sm" style="left:1007.95px;top:631.32px;font-size:25.89px;transform:scaleX(1.013);">M/L</span>
<span class="t sm" style="left:432.75px;top:679.75px;font-size:26.22px;">M/L</span>
<span class="t sm" style="left:791.85px;top:678.15px;font-size:26.22px;">M/L</span>
<span class="t sm" style="left:863.75px;top:678.15px;font-size:26.22px;">M/L</span>
<span class="t sm" style="left:935.71px;top:678.15px;font-size:26.22px;">M/L</span>
<span class="t sm" style="left:210.33px;top:727.31px;font-size:25.89px;transform:scaleX(0.841);">L/XL</span>
<span class="t sm" style="left:287.32px;top:726.15px;font-size:26.22px;transform:scaleX(0.832);">L/XL</span>
<span class="t sm" style="left:359.32px;top:726.15px;font-size:26.22px;transform:scaleX(0.832);">L/XL</span>
<span class="t sm" style="left:505.29px;top:727.82px;font-size:25.89px;transform:scaleX(1.011);">M/L</span>
<span class="t sm" style="left:720px;top:727.13px;font-size:26.05px;transform:scaleX(1.006);">M/L</span>
<span class="t sm" style="left:287.32px;top:773.15px;font-size:26.22px;transform:scaleX(0.832);">L/XL</span>
<span class="t sm" style="left:359.32px;top:773.15px;font-size:26.22px;transform:scaleX(0.832);">L/XL</span>
<span class="t sm" style="left:431.69px;top:773.15px;font-size:26.22px;transform:scaleX(0.832);">L/XL</span>
<span class="t sm" style="left:576.26px;top:775.43px;font-size:26.05px;transform:scaleX(1.010);">M/L</span>
<span class="t sm" style="left:648.36px;top:775.43px;font-size:26.05px;transform:scaleX(1.004);">M/L</span>
<span class="t sm" style="left:1078.9px;top:775.82px;font-size:25.89px;transform:scaleX(0.842);">L/XL</span>
<span class="t sm" style="left:503.22px;top:822.95px;font-size:26.22px;transform:scaleX(0.831);">L/XL</span>
<span class="t sm" style="left:934.32px;top:822.95px;font-size:26.22px;transform:scaleX(0.832);">L/XL</span>
<span class="t sm" style="left:1006.9px;top:823.82px;font-size:25.89px;transform:scaleX(0.842);">L/XL</span>
<span class="t sm" style="left:575.58px;top:872.12px;font-size:25.89px;transform:scaleX(0.841);">L/XL</span>
<span class="t sm" style="left:647.96px;top:872.12px;font-size:25.89px;transform:scaleX(0.841);">L/XL</span>
<span class="t sm" style="left:719.32px;top:870.75px;font-size:26.22px;transform:scaleX(0.832);">L/XL</span>
<span class="t sm" style="left:791.16px;top:870.75px;font-size:26.22px;transform:scaleX(0.832);">L/XL</span>
<span class="t sm" style="left:863.04px;top:870.75px;font-size:26.22px;transform:scaleX(0.831);">L/XL</span>
<span class="t sm" style="left:587.91px;top:1016.16px;font-size:25.98px;transform:scaleX(0.847);">XL/2XL</span>
<span class="t sm" style="left:794.71px;top:1019.97px;font-size:27.61px;transform:scaleX(0.860);">XL/2XL</span>
<span class="t sm" style="left:961.6px;top:1018.95px;font-size:26.22px;transform:scaleX(0.815);">XL/2XL</span>
<span class="t sm" style="left:1078.68px;top:1017.43px;font-size:26.05px;transform:scaleX(0.780);">XXL</span>
<span class="t sm" style="left:649.86px;top:1062.91px;font-size:25.89px;transform:scaleX(0.768);">XXL</span>
<span class="t sm" style="left:861.6px;top:1068.31px;font-size:26.52px;transform:scaleX(0.822);">XXL</span>
<span class="t sm" style="left:857.98px;top:1113.54px;font-size:27.9px;transform:scaleX(0.927);">XXL/3XL</span>
<span class="t sm" style="left:260.7px;top:438.49px;font-size:38.76px;transform:scaleX(0.760);">S</span>
<span class="t sm" style="left:372.42px;top:484.92px;font-size:38.89px;transform:scaleX(0.819);">S</span>
<span class="t sm md" style="left:293.33px;top:583.44px;font-size:30.1px;transform:scaleX(1.329);">M</span>
<span class="t sm md" style="left:505.72px;top:652.13px;font-size:30.41px;transform:scaleX(1.284);">M</span>
<span class="t sm" style="left:278.2px;top:676.16px;font-size:41.5px;transform:scaleX(0.834);">L</span>
<span class="t sm" style="left:442.96px;top:727.6px;font-size:30.22px;transform:scaleX(0.897);">L</span>
<span class="t sm" style="left:405.25px;top:824.7px;font-size:29.69px;transform:scaleX(0.790);">XL</span>
<span class="t sm" style="left:495.27px;top:877.38px;font-size:28.31px;transform:scaleX(0.849);">XL</span>
<span class="t sm" style="left:650.36px;top:920.19px;font-size:28.68px;transform:scaleX(0.842);">XL</span>
<span class="t sm" style="left:929.94px;top:1155.98px;font-size:33.12px;transform:scaleX(0.905);">3XL</span>
<span class="t bg" style="left:475.18px;top:265.9px;font-size:71.74px;transform:scaleX(0.847);-webkit-text-stroke-width:4.4px;">XS</span>
<span class="t bg" style="left:899.14px;top:389.89px;font-size:66.6px;transform:scaleX(0.810);-webkit-text-stroke-width:4.0px;">S</span>
<span class="t bg" style="left:752.08px;top:442.41px;font-size:62.42px;transform:scaleX(0.832);-webkit-text-stroke-width:4.0px;">S</span>
<span class="t bg" style="left:592.53px;top:510.37px;font-size:79.76px;transform:scaleX(0.823);-webkit-text-stroke-width:4.0px;">S</span>
<span class="t bg" style="left:925.01px;top:537.96px;font-size:67.89px;transform:scaleX(1.213);-webkit-text-stroke-width:1.6px;">M</span>
<span class="t bg" style="left:795.08px;top:589.62px;font-size:67.64px;transform:scaleX(1.227);-webkit-text-stroke-width:1.6px;">M</span>
<span class="t bg" style="left:591.83px;top:685.08px;font-size:67.64px;transform:scaleX(1.240);-webkit-text-stroke-width:1.6px;">M</span>
<span class="t bg" style="left:860.76px;top:737.9px;font-size:66.06px;transform:scaleX(0.869);-webkit-text-stroke-width:4.0px;">L</span>
<span class="t bg" style="left:869.33px;top:929.56px;font-size:64.72px;transform:scaleX(0.910);-webkit-text-stroke-width:4.0px;">XL</span>
<span class="t so" style="left:850.92px;top:178.52px;font-size:36.89px;transform:scaleX(0.988);">Sorry No Size</span>
<span class="t so" style="left:888.84px;top:230.88px;font-size:35.72px;transform:scaleX(1.066);">For You</span>
<span class="t so" style="left:237.23px;top:1048.78px;font-size:50.37px;transform:scaleX(0.995);">Sorry No Size</span>
<span class="t so" style="left:289.36px;top:1119.91px;font-size:49.76px;transform:scaleX(1.047);">For You</span>
</div>
</body></html>
